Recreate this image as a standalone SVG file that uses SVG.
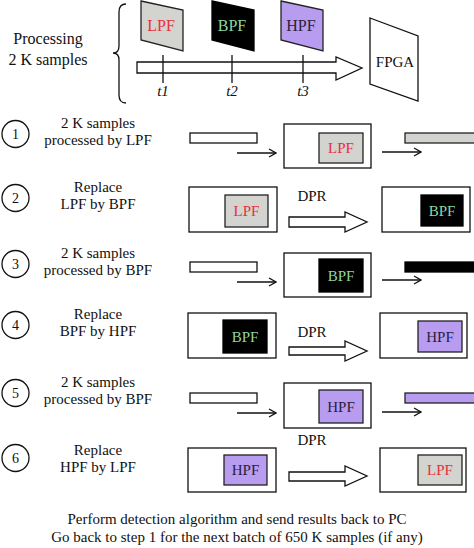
<svg xmlns="http://www.w3.org/2000/svg" width="474" height="548" viewBox="0 0 474 548" font-family="'Liberation Serif', 'DejaVu Serif', serif">
<defs>
<style>
text{font-family:'Liberation Serif','DejaVu Serif',serif;font-size:15px;fill:#111;text-anchor:middle}
.ln{fill:none;stroke:#111;stroke-width:1.3}
.box{fill:#fff;stroke:#111;stroke-width:1.3}
.lpf{fill:#d3d3cf;stroke:#222;stroke-width:1.3}
.bpf{fill:#000;stroke:#000;stroke-width:1.3}
.hpf{fill:#b79cf0;stroke:#222;stroke-width:1.3}
.tl{fill:#e8303c}
.tb{fill:#8fd6a0}
.th{fill:#2a2040}
.num{font-size:14px}
.it{font-style:italic}
.big{font-size:16px}
</style>
<marker id="ah" viewBox="0 0 10 10" refX="9" refY="5" markerWidth="10" markerHeight="10" markerUnits="userSpaceOnUse" orient="auto">
<path d="M2,1 L9,5 L2,9" fill="none" stroke="#111" stroke-width="1.3"/>
</marker>
</defs>
<rect width="474" height="548" fill="#fff"/>

<g id="header">
<text class="big" x="48" y="44">Processing</text>
<text class="big" x="48" y="65">2 K samples</text>
<path class="ln" d="M126,4 Q119,4 119,12 L119,46 Q119,53 113,53 Q119,53 119,60 L119,95 Q119,103 126,103"/>
</g>

<g id="top-lpf">
<polygon class="lpf" points="141,1 183,10 183,51 141,40"/>
<text class="tl big" x="161" y="31">LPF</text>
</g>
<g id="top-bpf">
<polygon class="bpf" points="212,1 254,10 254,51 212,40"/>
<text class="tb big" x="232" y="31">BPF</text>
</g>
<g id="top-hpf">
<polygon class="hpf" points="281,1 323,10 323,51 281,40"/>
<text class="th big" x="301" y="31">HPF</text>
</g>
<g id="timeline">
<polygon class="box" points="137,62 336,62 336,57 362,68 336,80 336,73 137,73"/>
<line class="ln" x1="163" y1="55" x2="163" y2="83"/>
<line class="ln" x1="232" y1="55" x2="232" y2="83"/>
<line class="ln" x1="303" y1="55" x2="303" y2="83"/>
<text class="it" x="163" y="96">t1</text>
<text class="it" x="232" y="96">t2</text>
<text class="it" x="303" y="96">t3</text>
</g>
<g id="top-fpga">
<polygon class="box" points="370,18 418,36 418,101 370,84"/>
<text x="395" y="67">FPGA</text>
</g>

<g id="step1">
<circle class="box" cx="15.5" cy="134" r="13.5"/>
<text class="num" x="15.5" y="139">1</text>
<text x="98" y="128">2 K samples</text>
<text x="98" y="145">processed by LPF</text>
<rect class="box" x="190" y="133" width="67" height="10"/>
<rect class="box" x="284" y="124" width="87" height="44"/>
<rect class="lpf" x="319" y="133" width="44" height="30"/>
<text class="tl" x="341" y="153">LPF</text>
<rect class="lpf" x="405" y="133" width="75" height="10"/>
</g>

<g id="step2">
<circle class="box" cx="15.5" cy="198" r="13.5"/>
<text class="num" x="15.5" y="203">2</text>
<text x="98" y="192">Replace</text>
<text x="98" y="209">LPF by BPF</text>
<rect class="box" x="189" y="187" width="88" height="45"/>
<rect class="lpf" x="225" y="195" width="43" height="32"/>
<text class="tl" x="246.5" y="216">LPF</text>
<text x="312" y="201">DPR</text>
<rect class="box" x="382" y="187" width="88" height="45"/>
<rect class="bpf" x="421" y="195" width="42" height="31"/>
<text class="tb" x="442" y="216">BPF</text>
</g>

<g id="step3">
<circle class="box" cx="15.5" cy="264" r="13.5"/>
<text class="num" x="15.5" y="269">3</text>
<text x="98" y="258">2 K samples</text>
<text x="98" y="275">processed by BPF</text>
<rect class="box" x="190" y="262" width="67" height="10"/>
<rect class="box" x="284" y="253" width="87" height="44"/>
<rect class="bpf" x="319" y="259" width="44" height="33"/>
<text class="tb" x="341" y="281">BPF</text>
<rect class="bpf" x="405" y="262" width="75" height="10"/>
</g>

<g id="step4">
<circle class="box" cx="15.5" cy="325" r="13.5"/>
<text class="num" x="15.5" y="330">4</text>
<text x="98" y="319">Replace</text>
<text x="98" y="336">BPF by HPF</text>
<rect class="box" x="188" y="313" width="88" height="45"/>
<rect class="bpf" x="223" y="320" width="44" height="33"/>
<text class="tb" x="245" y="342">BPF</text>
<text x="312" y="337">DPR</text>
<rect class="box" x="380" y="313" width="87" height="45"/>
<rect class="hpf" x="418" y="321" width="44" height="31"/>
<text class="th" x="440" y="342">HPF</text>
</g>

<g id="step5">
<circle class="box" cx="15.5" cy="393" r="13.5"/>
<text class="num" x="15.5" y="398">5</text>
<text x="98" y="387">2 K samples</text>
<text x="98" y="404">processed by BPF</text>
<rect class="box" x="190" y="393" width="67" height="10"/>
<rect class="box" x="284" y="383" width="87" height="45"/>
<rect class="hpf" x="319" y="390" width="44" height="33"/>
<text class="th" x="341" y="412">HPF</text>
<rect class="hpf" x="405" y="393" width="75" height="10"/>
</g>

<g id="step6">
<circle class="box" cx="15.5" cy="458" r="13.5"/>
<text class="num" x="15.5" y="463">6</text>
<text x="98" y="455">Replace</text>
<text x="98" y="472">HPF by LPF</text>
<rect class="box" x="188" y="448" width="88" height="44"/>
<rect class="hpf" x="224" y="455" width="43" height="30"/>
<text class="th" x="245.5" y="475">HPF</text>
<text x="312" y="445">DPR</text>
<rect class="box" x="380" y="448" width="86" height="44"/>
<rect class="lpf" x="418" y="455" width="44" height="30"/>
<text class="tl" x="440" y="475">LPF</text>
</g>

<g id="connectors">
<line class="ln" x1="237" y1="153" x2="276" y2="153" marker-end="url(#ah)"/>
<line class="ln" x1="382" y1="152" x2="421" y2="152" marker-end="url(#ah)"/>
<polygon class="box" points="289,217 345,217 345,212 367,222 345,232 345,227 289,227"/>
<line class="ln" x1="237" y1="282" x2="276" y2="282" marker-end="url(#ah)"/>
<line class="ln" x1="382" y1="280" x2="421" y2="280" marker-end="url(#ah)"/>
<polygon class="box" points="289,347 345,347 345,341 367,351 345,361 345,355 289,355"/>
<line class="ln" x1="237" y1="413" x2="276" y2="413" marker-end="url(#ah)"/>
<line class="ln" x1="382" y1="412" x2="421" y2="412" marker-end="url(#ah)"/>
<polygon class="box" points="289,472 345,472 345,466 367,476 345,486 345,481 289,481"/>
</g>

<g id="footer">
<text x="237" y="524">Perform detection algorithm and send results back to PC</text>
<text x="237" y="542">Go back to step 1 for the next batch of 650 K samples (if any)</text>
</g>
</svg>
